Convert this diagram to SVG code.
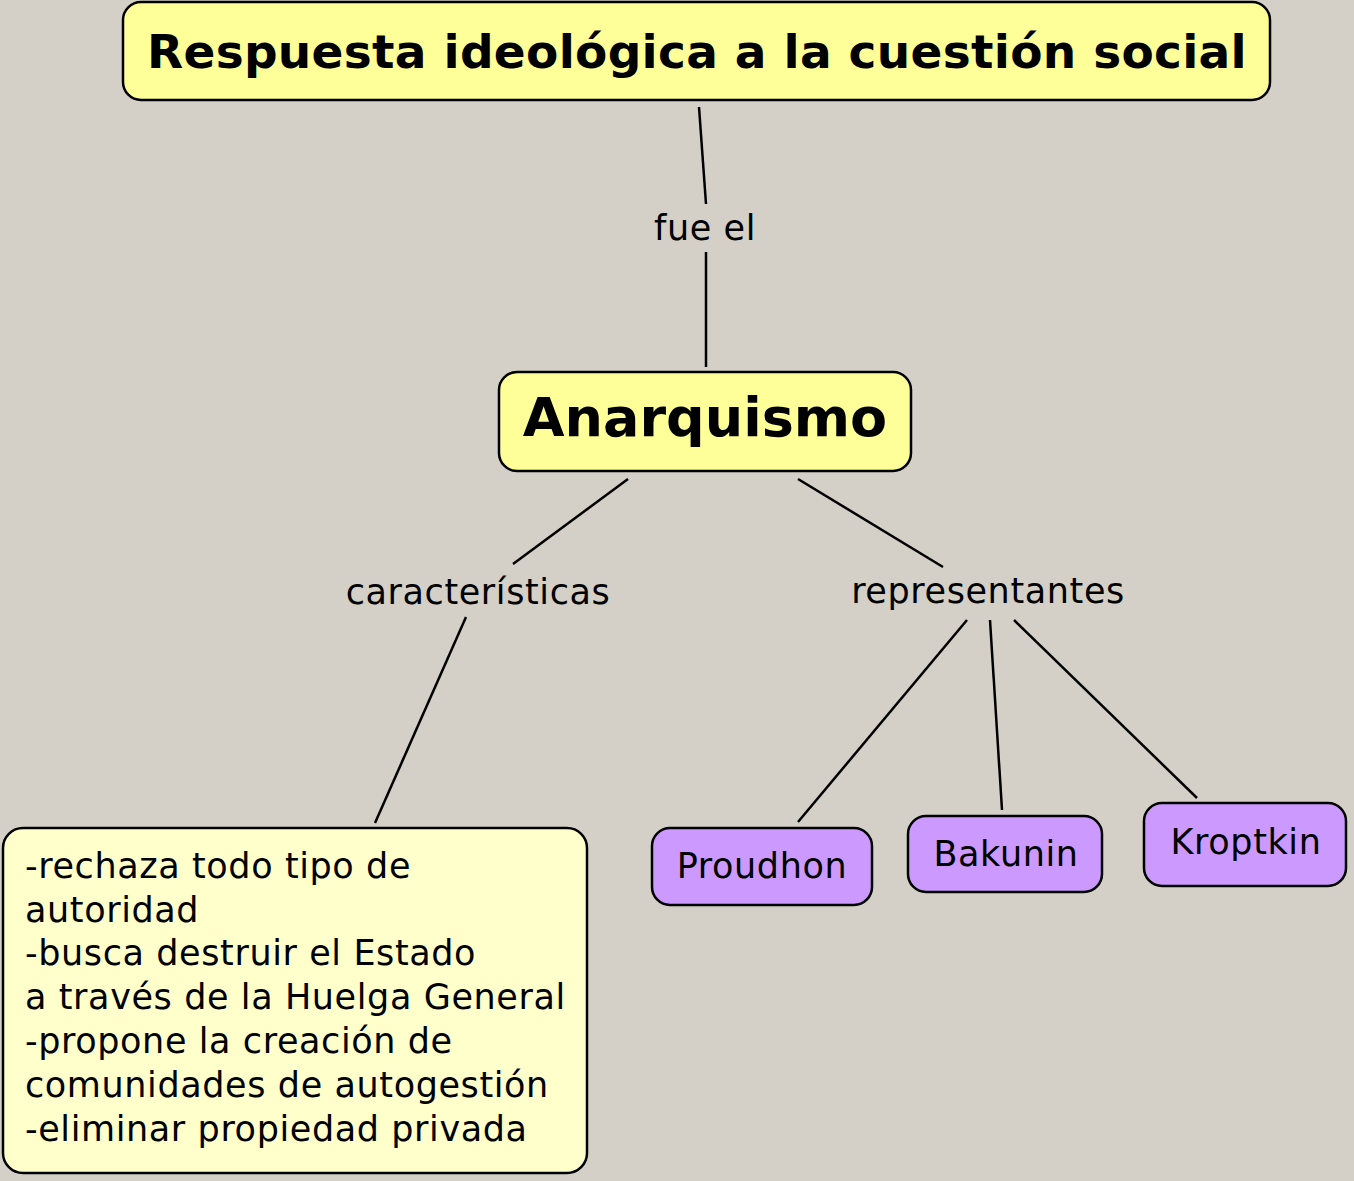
<svg xmlns="http://www.w3.org/2000/svg" width="1354" height="1181" viewBox="0 0 1354 1181">
<style>
.box{stroke:#000;stroke-width:2.5}
.t{font-family:"DejaVu Sans",Verdana,sans-serif;fill:#000}
.n{font-size:35px;letter-spacing:0.6px}
.b{font-weight:bold}
.lbl{text-anchor:middle}
.c{fill:none;stroke:#000;stroke-width:2.5}
</style>
<rect width="1354" height="1181" fill="#D4D0C8"/>
<g id="connectors">
<line class="c" x1="699" y1="107" x2="706" y2="204"/>
<line class="c" x1="706" y1="252" x2="706" y2="367"/>
<line class="c" x1="628" y1="479" x2="513" y2="564"/>
<line class="c" x1="798" y1="479" x2="943" y2="567"/>
<line class="c" x1="466" y1="617" x2="375" y2="823"/>
<line class="c" x1="967" y1="620" x2="798" y2="822"/>
<line class="c" x1="990" y1="620" x2="1002" y2="810"/>
<line class="c" x1="1014" y1="620" x2="1197" y2="798"/>
<text class="t n lbl" x="705" y="240">fue el</text>
<text class="t n lbl" x="478" y="604">características</text>
<text class="t n lbl" x="988" y="603">representantes</text>
</g>
<g id="title">
<rect class="box" x="123" y="2" width="1147" height="98" rx="18" fill="#FFFF99"/>
<text class="t b lbl" x="697" y="68" font-size="47" letter-spacing="0.3">Respuesta ideológica a la cuestión social</text>
</g>
<g id="anarquismo">
<rect class="box" x="499" y="372" width="412" height="99" rx="18" fill="#FFFF99"/>
<text class="t b lbl" x="705" y="436" font-size="54">Anarquismo</text>
</g>
<g id="caracteristicas">
<rect class="box" x="3" y="828" width="584" height="345" rx="20" fill="#FFFFCC"/>
<text class="t n" x="25">
<tspan x="25" y="878">-rechaza todo tipo de</tspan>
<tspan x="25" y="922">autoridad</tspan>
<tspan x="25" y="965">-busca destruir el Estado</tspan>
<tspan x="25" y="1009">a través de la Huelga General</tspan>
<tspan x="25" y="1053">-propone la creación de</tspan>
<tspan x="25" y="1097">comunidades de autogestión</tspan>
<tspan x="25" y="1141">-eliminar propiedad privada</tspan>
</text>
</g>
<g id="proudhon">
<rect class="box" x="652" y="828" width="220" height="77" rx="18" fill="#CC99FF"/>
<text class="t n lbl" x="762" y="878">Proudhon</text>
</g>
<g id="bakunin">
<rect class="box" x="908" y="816" width="194" height="76" rx="18" fill="#CC99FF"/>
<text class="t n lbl" x="1006" y="866">Bakunin</text>
</g>
<g id="kroptkin">
<rect class="box" x="1144" y="803" width="202" height="83" rx="18" fill="#CC99FF"/>
<text class="t n lbl" x="1246" y="854">Kroptkin</text>
</g>
</svg>
